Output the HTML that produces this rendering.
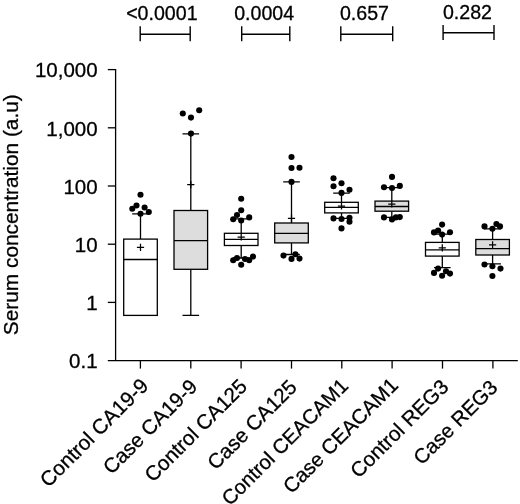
<!DOCTYPE html><html><head><meta charset="utf-8"><title>Serum concentration</title>
<style>html,body{margin:0;padding:0;background:#fff}body{width:520px;height:504px;overflow:hidden}svg{display:block}text{font-family:"Liberation Sans",Arial,sans-serif;fill:#000;stroke:#000;stroke-width:0.3px}</style></head><body>
<svg width="520" height="504" viewBox="0 0 520 504">
<rect width="520" height="504" fill="#fff"/>
<g stroke="#000" stroke-width="1.3" fill="none" stroke-linecap="butt">
<path d="M115.6 69 V360.6"/>
<path d="M107.8 360.6 H517.8"/>
<path d="M107.8 302.4 H115.6"/>
<path d="M107.8 244.2 H115.6"/>
<path d="M107.8 186.0 H115.6"/>
<path d="M107.8 127.8 H115.6"/>
<path d="M107.8 69.6 H115.6"/>
<path d="M140.4 360.6 V368.6"/>
<path d="M190.8 360.6 V368.6"/>
<path d="M241.1 360.6 V368.6"/>
<path d="M291.5 360.6 V368.6"/>
<path d="M341.8 360.6 V368.6"/>
<path d="M392.1 360.6 V368.6"/>
<path d="M442.5 360.6 V368.6"/>
<path d="M492.9 360.6 V368.6"/>
</g>
<text x="97.6" y="368.4" font-size="20.5" text-anchor="end">0.1</text>
<text x="97.6" y="310.2" font-size="20.5" text-anchor="end">1</text>
<text x="97.6" y="252.0" font-size="20.5" text-anchor="end">10</text>
<text x="97.6" y="193.8" font-size="20.5" text-anchor="end">100</text>
<text x="97.6" y="135.6" font-size="20.5" text-anchor="end">1,000</text>
<text x="97.6" y="77.4" font-size="20.5" text-anchor="end">10,000</text>
<text transform="translate(17.8,214.7) rotate(-90)" font-size="20.85" text-anchor="middle">Serum concentration (a.u)</text>
<text transform="translate(149.6,387.0) rotate(-45)" font-size="20.75" text-anchor="end">Control CA19-9</text>
<text transform="translate(198.6,388.0) rotate(-45)" font-size="20.55" text-anchor="end">Case CA19-9</text>
<text transform="translate(248.4,387.6) rotate(-45)" font-size="20.55" text-anchor="end">Control CA125</text>
<text transform="translate(298.2,388.3) rotate(-45)" font-size="20.55" text-anchor="end">Case CA125</text>
<text transform="translate(349.5,387.0) rotate(-45)" font-size="20.3" text-anchor="end">Control CEACAM1</text>
<text transform="translate(399.4,386.5) rotate(-45)" font-size="20.5" text-anchor="end">Case CEACAM1</text>
<text transform="translate(449.8,388.0) rotate(-45)" font-size="20.7" text-anchor="end">Control REG3</text>
<text transform="translate(498.9,388.6) rotate(-45)" font-size="20.45" text-anchor="end">Case REG3</text>
<text x="161.85" y="20.2" font-size="19.6" text-anchor="middle">&lt;0.0001</text>
<path d="M140.2 26.3 V41.3 M190.2 26.3 V41.3 M140.2 34.2 H190.2" stroke="#000" stroke-width="1.4" fill="none"/>
<text x="264.2" y="20.2" font-size="19.6" text-anchor="middle">0.0004</text>
<path d="M241.7 26.3 V41.3 M289.8 26.3 V41.3 M241.7 34.2 H289.8" stroke="#000" stroke-width="1.4" fill="none"/>
<text x="364.5" y="20.0" font-size="19.6" text-anchor="middle">0.657</text>
<path d="M340.8 26.3 V41.3 M392.7 26.3 V41.3 M340.8 34.2 H392.7" stroke="#000" stroke-width="1.4" fill="none"/>
<text x="467.5" y="18.7" font-size="19.6" text-anchor="middle">0.282</text>
<path d="M443.1 25.0 V40.0 M494.0 25.0 V40.0 M443.1 32.7 H494.0" stroke="#000" stroke-width="1.4" fill="none"/>
<g stroke="#000" stroke-width="1.3" fill="none">
<path d="M140.5 239.1 V213.8 M132.2 213.8 H148.8"/>
<rect x="123.7" y="239.1" width="33.6" height="76.3" fill="#fff"/>
<path d="M123.7 259.5 H157.3"/>
<path d="M136.9 247.4 H144.1 M140.5 243.8 V251.0" stroke-width="1.25"/>
</g>
<g stroke="#000" stroke-width="1.3" fill="none">
<path d="M190.8 210.5 V133.8 M182.5 133.8 H199.10000000000002"/>
<path d="M190.8 269.3 V315.4 M182.5 315.4 H199.10000000000002"/>
<rect x="174.0" y="210.5" width="33.6" height="58.8" fill="#ddd"/>
<path d="M174.0 240.6 H207.6"/>
<path d="M187.20000000000002 184.7 H194.4 M190.8 181.1 V188.29999999999998" stroke-width="1.25"/>
</g>
<g stroke="#000" stroke-width="1.3" fill="none">
<path d="M241.2 233.3 V218.9 M232.89999999999998 218.9 H249.5"/>
<path d="M241.2 245.5 V258.0 M232.89999999999998 258.0 H249.5"/>
<rect x="224.4" y="233.3" width="33.6" height="12.2" fill="#fff"/>
<path d="M224.4 239.4 H258.0"/>
<path d="M237.6 237.0 H244.79999999999998 M241.2 233.4 V240.6" stroke-width="1.25"/>
</g>
<g stroke="#000" stroke-width="1.3" fill="none">
<path d="M291.5 223.0 V181.9 M283.2 181.9 H299.8"/>
<path d="M291.5 242.9 V254.5 M283.2 254.5 H299.8"/>
<rect x="274.7" y="223.0" width="33.6" height="19.9" fill="#ddd"/>
<path d="M274.7 233.3 H308.3"/>
<path d="M287.9 218.4 H295.1 M291.5 214.8 V222.0" stroke-width="1.25"/>
</g>
<g stroke="#000" stroke-width="1.3" fill="none">
<path d="M341.5 202.3 V193.1 M333.2 193.1 H349.8"/>
<path d="M341.5 212.9 V218.4 M333.2 218.4 H349.8"/>
<rect x="324.7" y="202.3" width="33.6" height="10.6" fill="#fff"/>
<path d="M324.7 207.3 H358.3"/>
<path d="M337.9 206.0 H345.1 M341.5 202.4 V209.6" stroke-width="1.25"/>
</g>
<g stroke="#000" stroke-width="1.3" fill="none">
<path d="M391.8 201.1 V187.7 M383.5 187.7 H400.1"/>
<path d="M391.8 211.2 V217.4 M383.5 217.4 H400.1"/>
<rect x="375.0" y="201.1" width="33.6" height="10.1" fill="#ddd"/>
<path d="M375.0 206.5 H408.6"/>
<path d="M388.2 204.0 H395.40000000000003 M391.8 200.4 V207.6" stroke-width="1.25"/>
</g>
<g stroke="#000" stroke-width="1.3" fill="none">
<path d="M442.3 242.4 V234.1 M434.0 234.1 H450.6"/>
<path d="M442.3 256.1 V267.6 M434.0 267.6 H450.6"/>
<rect x="425.5" y="242.4" width="33.6" height="13.7" fill="#fff"/>
<path d="M425.5 249.9 H459.1"/>
<path d="M438.7 247.9 H445.90000000000003 M442.3 244.3 V251.5" stroke-width="1.25"/>
</g>
<g stroke="#000" stroke-width="1.3" fill="none">
<path d="M492.6 239.5 V228.8 M484.3 228.8 H500.90000000000003"/>
<path d="M492.6 255.0 V263.8 M484.3 263.8 H500.90000000000003"/>
<rect x="475.8" y="239.5" width="33.6" height="15.5" fill="#ddd"/>
<path d="M475.8 248.6 H509.4"/>
<path d="M489.0 244.8 H496.20000000000005 M492.6 241.20000000000002 V248.4" stroke-width="1.25"/>
</g>
<g fill="#000">
<circle cx="140.5" cy="194.8" r="3.05"/>
<circle cx="136.5" cy="205.5" r="3.05"/>
<circle cx="144.6" cy="207.5" r="3.05"/>
<circle cx="132.3" cy="208.8" r="3.05"/>
<circle cx="148.8" cy="212" r="3.05"/>
<circle cx="140.5" cy="213.8" r="3.05"/>
<circle cx="182.8" cy="113.5" r="3.05"/>
<circle cx="199.2" cy="110.3" r="3.05"/>
<circle cx="191" cy="117.6" r="3.05"/>
<circle cx="191" cy="133.6" r="3.05"/>
<circle cx="241.2" cy="198.8" r="3.05"/>
<circle cx="241.2" cy="210.2" r="3.05"/>
<circle cx="237" cy="215" r="3.05"/>
<circle cx="249.2" cy="217.4" r="3.05"/>
<circle cx="233.2" cy="219.2" r="3.05"/>
<circle cx="241.2" cy="220.5" r="3.05"/>
<circle cx="253" cy="256.6" r="3.05"/>
<circle cx="237" cy="258" r="3.05"/>
<circle cx="233.2" cy="260.2" r="3.05"/>
<circle cx="245" cy="259" r="3.05"/>
<circle cx="249.2" cy="260.2" r="3.05"/>
<circle cx="241.2" cy="264.8" r="3.05"/>
<circle cx="291.5" cy="157.0" r="3.05"/>
<circle cx="291.5" cy="168.0" r="3.05"/>
<circle cx="299.5" cy="167.7" r="3.05"/>
<circle cx="291.5" cy="181.9" r="3.05"/>
<circle cx="283.5" cy="255.6" r="3.05"/>
<circle cx="295.4" cy="254.3" r="3.05"/>
<circle cx="291.5" cy="258.9" r="3.05"/>
<circle cx="299.5" cy="258.6" r="3.05"/>
<circle cx="333.5" cy="178.2" r="3.05"/>
<circle cx="341.5" cy="183.3" r="3.05"/>
<circle cx="333.5" cy="186.2" r="3.05"/>
<circle cx="349.5" cy="189.8" r="3.05"/>
<circle cx="341.5" cy="192.9" r="3.05"/>
<circle cx="333.5" cy="218.4" r="3.05"/>
<circle cx="341.5" cy="219.0" r="3.05"/>
<circle cx="349.5" cy="217.7" r="3.05"/>
<circle cx="349.5" cy="221.8" r="3.05"/>
<circle cx="341.5" cy="228.4" r="3.05"/>
<circle cx="392" cy="176.9" r="3.05"/>
<circle cx="384" cy="187.2" r="3.05"/>
<circle cx="392" cy="188" r="3.05"/>
<circle cx="399.8" cy="185.9" r="3.05"/>
<circle cx="384" cy="217.4" r="3.05"/>
<circle cx="392" cy="219.4" r="3.05"/>
<circle cx="395.9" cy="217.4" r="3.05"/>
<circle cx="399.8" cy="217.1" r="3.05"/>
<circle cx="442.1" cy="224.6" r="3.05"/>
<circle cx="438.1" cy="230.5" r="3.05"/>
<circle cx="434" cy="232.4" r="3.05"/>
<circle cx="450" cy="232.2" r="3.05"/>
<circle cx="442.1" cy="234.6" r="3.05"/>
<circle cx="438.1" cy="268.6" r="3.05"/>
<circle cx="434" cy="272.9" r="3.05"/>
<circle cx="446" cy="271.2" r="3.05"/>
<circle cx="450" cy="273.6" r="3.05"/>
<circle cx="442.1" cy="275.7" r="3.05"/>
<circle cx="496.4" cy="224" r="3.05"/>
<circle cx="484.5" cy="226.4" r="3.05"/>
<circle cx="500" cy="226.4" r="3.05"/>
<circle cx="492.4" cy="228.8" r="3.05"/>
<circle cx="484.5" cy="264.5" r="3.05"/>
<circle cx="492.4" cy="266.2" r="3.05"/>
<circle cx="500.5" cy="268.6" r="3.05"/>
<circle cx="492.4" cy="276" r="3.05"/>
</g>
</svg></body></html>
